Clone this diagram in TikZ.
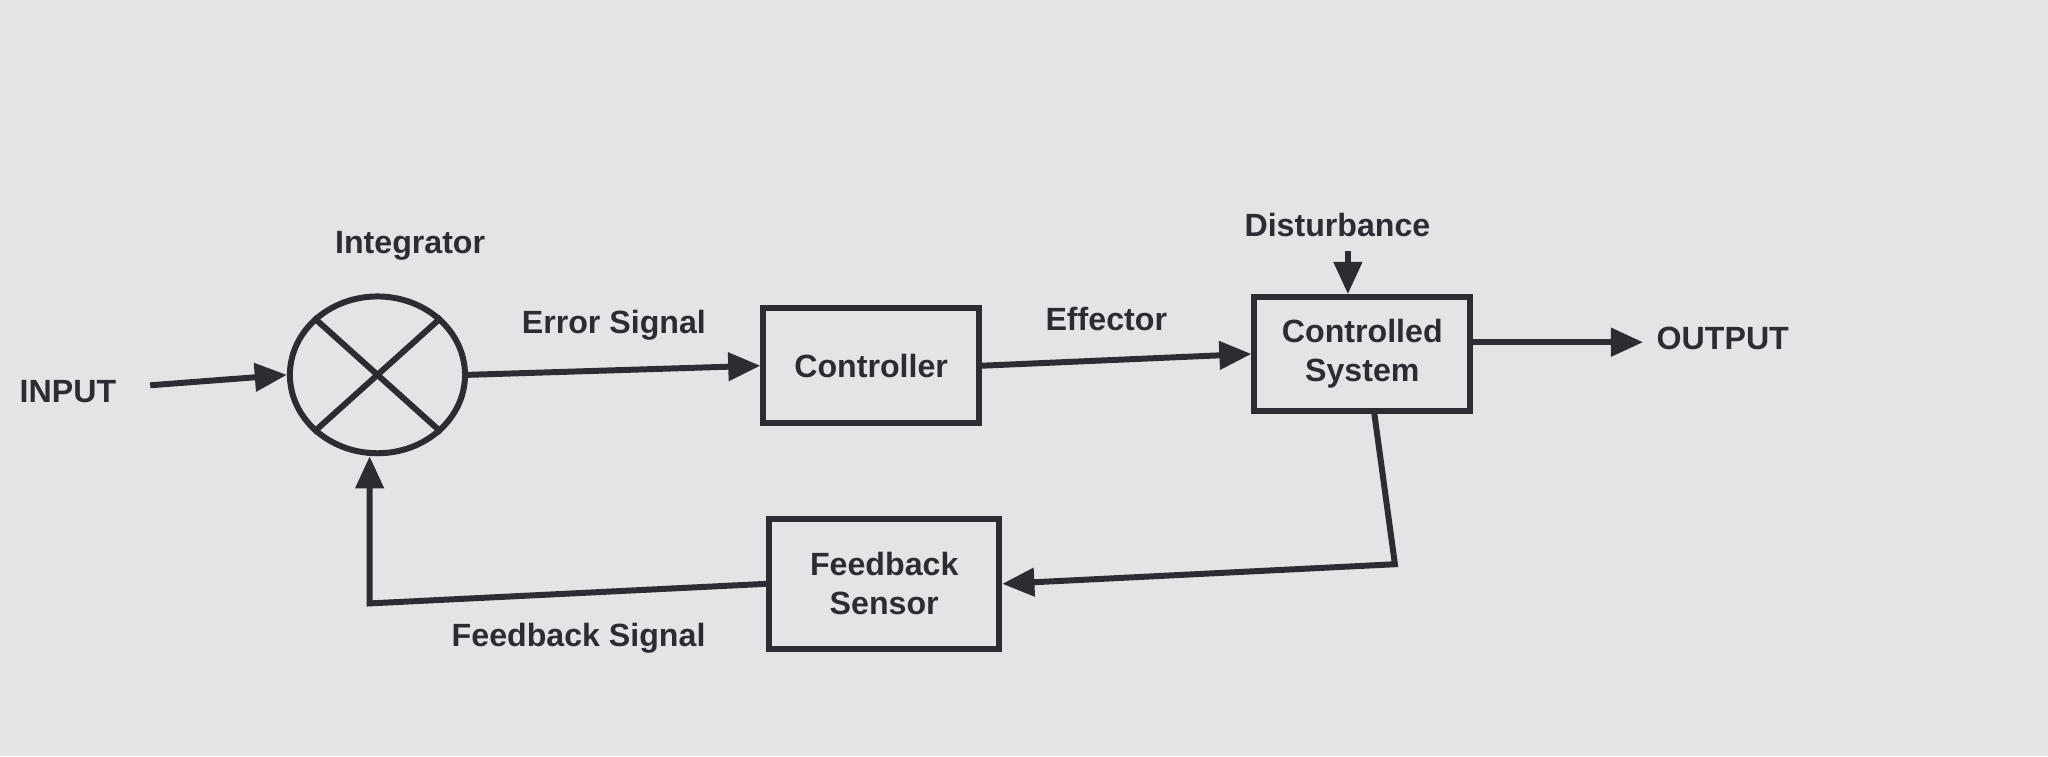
\documentclass[tikz,border=0pt]{standalone}
\usepackage{fontspec}
\setmainfont{Liberation Sans}
\usetikzlibrary{arrows.meta,shapes.geometric}
\definecolor{ink}{HTML}{2B2D33}
\definecolor{paper}{HTML}{E4E4E6}
\begin{document}
\begin{tikzpicture}[x=0.01cm,y=-0.01cm,
  every node/.style={text=ink,font=\bfseries\fontsize{7}{8.5}\selectfont},
  blk/.style={draw=ink,line width=1.3pt,align=center,inner sep=0},
  ln/.style={draw=ink,line width=1.3pt},
  ar/.style={ln,-{Triangle[length=7pt,width=6pt]}}]
\fill[paper] (0,0) rectangle (1568,579);
\useasboundingbox (0,0) rectangle (1568,579);
\node[ellipse,draw=ink,line width=1.3pt,minimum width=1.34cm,minimum height=1.2cm,inner sep=0] (sum) at (289,287) {};
\draw[ln] (sum.north west) -- (sum.south east) (sum.north east) -- (sum.south west);
\node (int) at (314,188) {Integrator};
\node (in) at (52,300) {INPUT};
\node[blk,minimum width=1.65cm,minimum height=0.88cm] (ctl) at (667,280) {Controller};
\node[blk,minimum width=1.65cm,minimum height=0.87cm] (sys) at (1043,271) {Controlled\\System};
\node[blk,minimum width=1.76cm,minimum height=0.99cm] (fb) at (677,447) {Feedback\\Sensor};
\node (dist) at (1024,172) {Disturbance};
\node (out) at (1319,259) {OUTPUT};
\node (err) at (470,249) {Error Signal};
\node (eff) at (847,244) {Effector};
\node (fbs) at (443,489) {Feedback Signal};
\coordinate (inS) at (115,295);
\coordinate (oE) at (1258,262);
\coordinate (dS) at (1032,192);
\coordinate (c1) at (1068,432);
\coordinate (c2) at (283,462);
\draw[ar] (inS) -- (sum.west);
\draw[ar] (sum.east) -- (ctl.west);
\draw[ar] (ctl.east) -- (sys.west);
\draw[ar] (dS) -- (sys.north -| dS);
\draw[ar] (sys.east |- oE) -- (oE);
\draw[ar] (1052,315) -- (c1) -- (fb.east);
\draw[ar] (fb.west) -- (c2) -- (sum.south -| c2);
\end{tikzpicture}
\end{document}
